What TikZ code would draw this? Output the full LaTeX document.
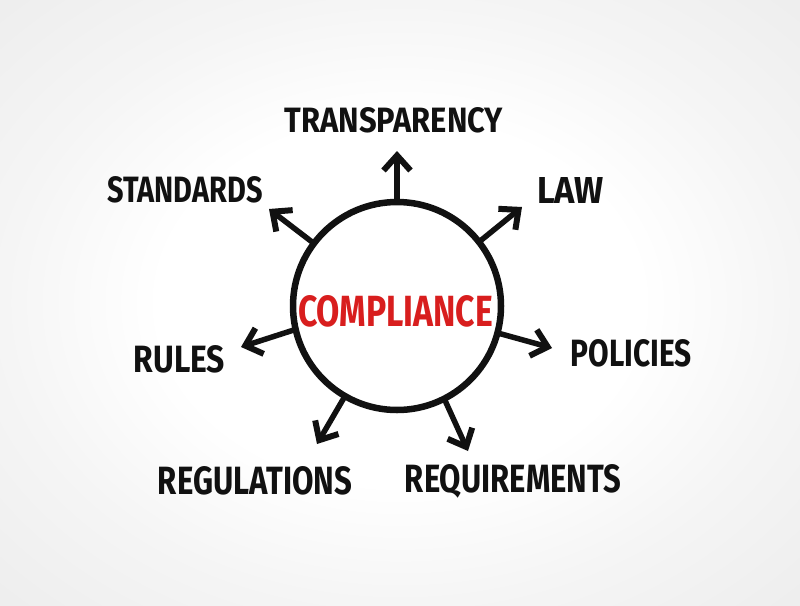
\documentclass[tikz,border=0pt]{standalone}
\usepackage{fontspec}
\setmainfont{Fira Sans}
\usepackage{graphicx}
\usetikzlibrary{arrows.meta}
\newcommand{\fitlbl}[3]{\resizebox{#1pt}{#2pt}{\bfseries #3}}
\pgfdeclareradialshading{vign}{\pgfpoint{0bp}{0bp}}{color(0bp)=(white); color(15bp)=(white); color(25bp)=(black!4); color(36bp)=(black!7); color(50bp)=(black!7)}
\definecolor{ink}{HTML}{111111}
\definecolor{redink}{HTML}{D81E1E}
\begin{document}
\begin{tikzpicture}[x=1pt,y=-1pt,
  lbl/.style={inner sep=0pt, text=ink},
  arr/.style={draw=ink, line width=5.5pt, line cap=round, line join=round, -{Straight Barb[length=15pt,width=27pt,line width=6pt]}}]
\shade[shading=vign] (0,0) rectangle (800,605);
\useasboundingbox (0,0) rectangle (800,605);
\node[circle, draw=ink, line width=6.5pt, minimum size=208pt, inner sep=0pt, outer sep=0pt] (c) at (397,306) {};
\node[lbl, text=redink] (comp) at (395.5,311.5) {\fitlbl{195}{31}{COMPLIANCE}};
\node[lbl] (trans) at (394,120.5) {\fitlbl{218}{25}{TRANSPARENCY}};
\node[lbl] (stand) at (185,190) {\fitlbl{155}{26}{STANDARDS}};
\node[lbl] (law) at (570.5,190) {\fitlbl{67}{26}{LAW}};
\node[lbl] (pol) at (631.5,353.5) {\fitlbl{121}{27}{POLICIES}};
\node[lbl] (rules) at (179.5,359.5) {\fitlbl{91}{27}{RULES}};
\node[lbl] (regs) at (255,481) {\fitlbl{194}{28}{REGULATIONS}};
\node[lbl] (reqs) at (513,481) {\fitlbl{216}{28}{REQUIREMENTS}};
\coordinate (tT) at (397,151);
\coordinate (tS) at (269,209);
\coordinate (tL) at (522,207);
\coordinate (tP) at (552,348);
\coordinate (tR) at (241,347);
\coordinate (tG) at (317,444);
\coordinate (tQ) at (468,451);
\draw[arr] (c.90) -- (tT);
\draw[arr] (c.143) -- (tS);
\draw[arr] (c.38) -- (tL);
\draw[arr] (c.-15) -- (tP);
\draw[arr] (c.193) -- (tR);
\draw[arr] (c.240) -- (tG);
\draw[arr] (c.297) -- (tQ);
\end{tikzpicture}
\end{document}
